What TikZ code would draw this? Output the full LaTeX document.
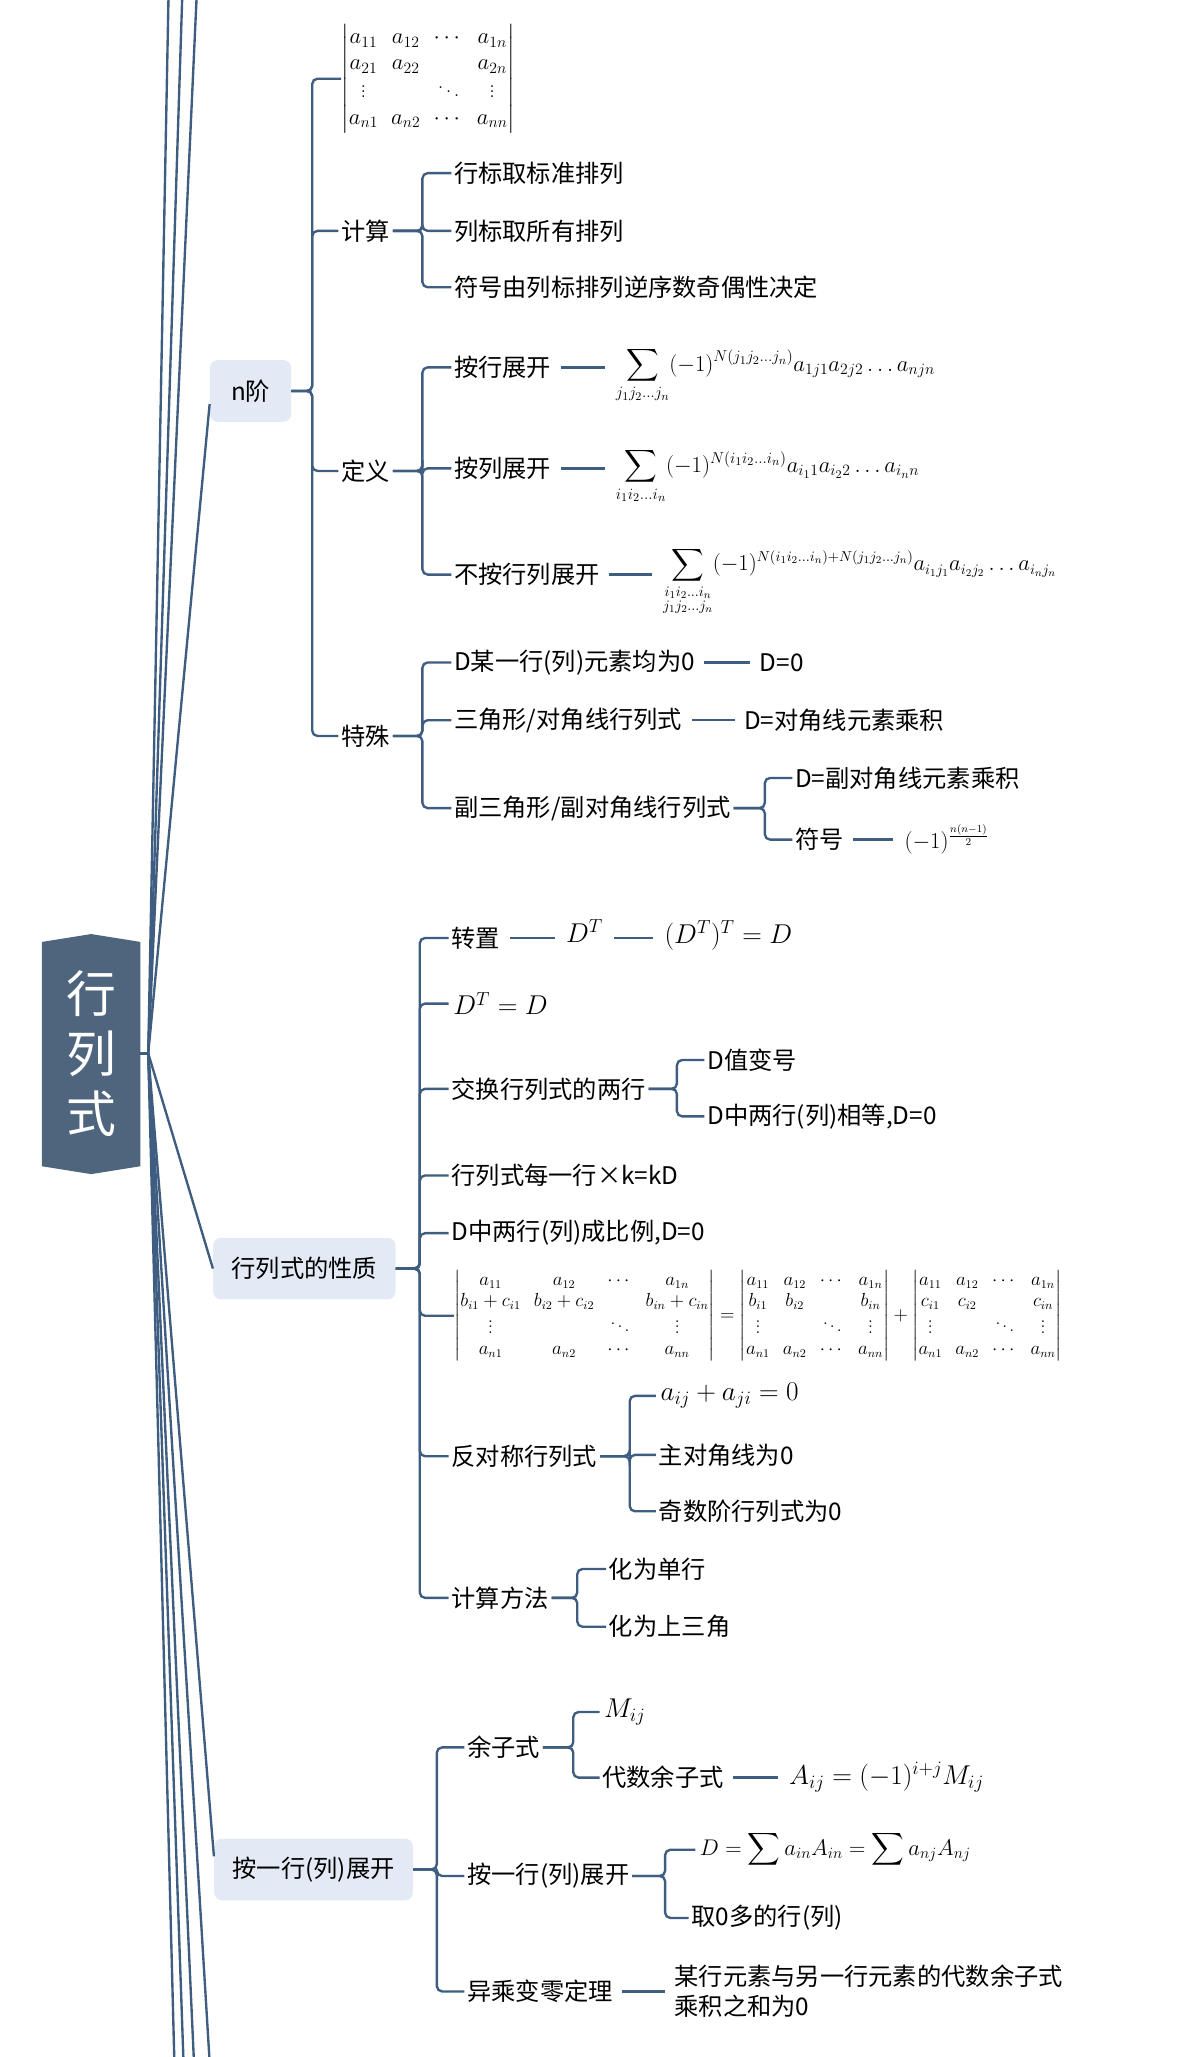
\documentclass[tikz,border=0pt]{standalone}
\usepackage{amsmath}
\usepackage{fontspec}
\newfontfamily\cjk{Noto Sans CJK SC}
\definecolor{linec}{HTML}{3E5D80}
\definecolor{rootc}{HTML}{4E657D}
\definecolor{boxc}{HTML}{E3EAF5}
\tikzset{
  link/.style={draw=linec, line width=1.8pt, rounded corners=4pt},
  dashlink/.style={draw=linec, line width=1.8pt, shorten <=5pt, shorten >=5pt},
  txt/.style={anchor=west, inner sep=2pt, font=\cjk\fontsize{18.5}{23}\selectfont},
  sub/.style={rounded corners=6pt, fill=boxc, minimum height=47pt, inner xsep=14pt,
    font=\cjk\fontsize{18.5}{23}\selectfont}
}
\begin{document}
\begin{tikzpicture}[x=1pt,y=-1pt]
  \clip (0,0) rectangle (905,1568);
  % root
  \fill[rootc] (32,718) -- (69.5,712) -- (107,718) -- (107,889) -- (69.5,895) -- (32,889) -- cycle;
  \node[text=white, font=\cjk\fontsize{38}{46}\selectfont, align=center] (root) at (69.5,803) {行\\列\\式};
  \coordinate (rt) at (113,803);
  \draw[link] (107,803) -- (rt);
  % branches leaving the picture
  \coordinate (up1) at (128.5,-5);
  \coordinate (up2) at (139,-5);
  \coordinate (up3) at (150,-5);
  \coordinate (dn1) at (133,1575);
  \coordinate (dn2) at (140,1575);
  \coordinate (dn3) at (148,1575);
  \coordinate (dn4) at (160,1575);
  \foreach \e in {up1,up2,up3,dn1,dn2,dn3,dn4}
    \draw[linec, line width=1.8pt] (rt) -- (\e);

  % ---------- n阶 ----------
  \node[sub, minimum width=62pt] (njie) at (191,298) {n阶};
  \draw[linec, line width=1.8pt] (rt) -- ([yshift=-10pt]njie.west);
  \node[anchor=west, inner sep=0pt] (det) at (260,60)
    {\fontsize{17}{20}\selectfont$\begin{vmatrix} a_{11} & a_{12} & \cdots & a_{1n}\\ a_{21} & a_{22} & & a_{2n}\\ \vdots & & \ddots & \vdots\\ a_{n1} & a_{n2} & \cdots & a_{nn}\end{vmatrix}$};
  \node[txt] (jisuan) at (258,176) {计算};
  \node[txt] (dingyi) at (258,359) {定义};
  \node[txt] (teshu) at (258,561) {特殊};
  \foreach \c in {det,jisuan,dingyi,teshu}
    \draw[link] (njie.east) -- (238,298) |- (\c.west);

  \node[txt] (j1) at (344,132) {行标取标准排列};
  \node[txt] (j2) at (344,176) {列标取所有排列};
  \node[txt] (j3) at (344,219) {符号由列标排列逆序数奇偶性决定};
  \foreach \c in {j1,j2,j3}
    \draw[link] (jisuan.east) -- (322,176) |- (\c.west);

  \node[txt] (d1) at (344,280) {按行展开};
  \node[txt] (d2) at (344,357) {按列展开};
  \node[txt] (d3) at (344,438) {不按行列展开};
  \foreach \c in {d1,d2,d3}
    \draw[link] (dingyi.east) -- (322,359) |- (\c.west);
  \node[anchor=west, font=\fontsize{18}{21}\selectfont] (f1) at (466,286)
    {$\displaystyle\sum_{j_1j_2\dots j_n}(-1)^{N(j_1j_2\dots j_n)}a_{1j1}a_{2j2}\dots a_{njn}$};
  \node[anchor=west, font=\fontsize{18}{21}\selectfont] (f2) at (466,363)
    {$\displaystyle\sum_{i_1i_2\dots i_n}(-1)^{N(i_1i_2\dots i_n)}a_{i_11}a_{i_22}\dots a_{i_nn}$};
  \node[anchor=west, font=\fontsize{16}{19}\selectfont] (f3) at (502,443)
    {$\displaystyle\sum_{\substack{i_1i_2\dots i_n\\ j_1j_2\dots j_n}}(-1)^{N(i_1i_2\dots i_n)+N(j_1j_2\dots j_n)}a_{i_1j_1}a_{i_2j_2}\dots a_{i_nj_n}$};
  \draw[dashlink] (d1.east) -- (d1.east -| f1.west);
  \draw[dashlink] (d2.east) -- (d2.east -| f2.west);
  \draw[dashlink] (d3.east) -- (d3.east -| f3.west);

  \node[txt] (t1) at (344,505) {D某一行(列)元素均为0};
  \node[txt] (t2) at (344,549) {三角形/对角线行列式};
  \node[txt] (t3) at (344,616) {副三角形/副对角线行列式};
  \foreach \c in {t1,t2,t3}
    \draw[link] (teshu.east) -- (322,561) |- (\c.west);
  \node[txt] (t1a) at (577,505) {D=0};
  \node[txt] (t2a) at (565,549) {D=对角线元素乘积};
  \draw[dashlink] (t1.east) -- (t1a.west);
  \draw[dashlink] (t2.east) -- (t2a.west);
  \node[txt] (t3a) at (604,593) {D=副对角线元素乘积};
  \node[txt] (t3b) at (604,640) {符号};
  \foreach \c in {t3a,t3b}
    \draw[link] (t3.east) -- (583,616) |- (\c.west);
  \node[anchor=west, font=\fontsize{17}{20}\selectfont] (t3c) at (686,640) {$(-1)^{\frac{n(n-1)}{2}}$};
  \draw[dashlink] (t3b.east) -- (t3b.east -| t3c.west);

  % ---------- 行列式的性质 ----------
  \node[sub] (xz) at (232,967) {行列式的性质};
  \draw[linec, line width=1.8pt] (rt) -- (xz.west);
  \node[txt] (p1) at (342,715) {转置};
  \node[anchor=west, font=\fontsize{21}{24}\selectfont] (p2) at (342,765) {$D^T=D$};
  \node[txt] (p3) at (342,830) {交换行列式的两行};
  \node[txt] (p4) at (342,896) {行列式每一行×k=kD};
  \node[txt] (p5) at (342,940) {D中两行(列)成比例,D=0};
  \node[anchor=west, font=\fontsize{13.5}{16}\selectfont, inner sep=0pt] (p6) at (346,1003)
    {$\begin{vmatrix} a_{11} & a_{12} & \cdots & a_{1n}\\ b_{i1}+c_{i1} & b_{i2}+c_{i2} & & b_{in}+c_{in}\\ \vdots & & \ddots & \vdots\\ a_{n1} & a_{n2} & \cdots & a_{nn}\end{vmatrix}
     =\begin{vmatrix} a_{11} & a_{12} & \cdots & a_{1n}\\ b_{i1} & b_{i2} & & b_{in}\\ \vdots & & \ddots & \vdots\\ a_{n1} & a_{n2} & \cdots & a_{nn}\end{vmatrix}
     +\begin{vmatrix} a_{11} & a_{12} & \cdots & a_{1n}\\ c_{i1} & c_{i2} & & c_{in}\\ \vdots & & \ddots & \vdots\\ a_{n1} & a_{n2} & \cdots & a_{nn}\end{vmatrix}$};
  \node[txt] (p7) at (342,1110) {反对称行列式};
  \node[txt] (p8) at (342,1218) {计算方法};
  \foreach \c in {p1,p2,p3,p4,p5,p6,p7,p8}
    \draw[link] (xz.east) -- (320,967) |- (\c.west);

  \node[anchor=west, font=\fontsize{21}{24}\selectfont] (p1a) at (428,710) {$D^T$};
  \node[anchor=west, font=\fontsize{21}{24}\selectfont] (p1b) at (503,713) {$(D^T)^T=D$};
  \draw[dashlink] (p1.east) -- (p1.east -| p1a.west);
  \draw[dashlink] (p1a.east |- p1.east) -- (p1.east -| p1b.west);

  \node[txt] (p3a) at (537,808) {D值变号};
  \node[txt] (p3b) at (537,851) {D中两行(列)相等,D=0};
  \foreach \c in {p3a,p3b}
    \draw[link] (p3.east) -- (516,830) |- (\c.west);

  \node[anchor=west, font=\fontsize{20}{23}\selectfont] (p7a) at (500,1064) {$a_{ij}+a_{ji}=0$};
  \node[txt] (p7b) at (500,1109) {主对角线为0};
  \node[txt] (p7c) at (500,1152) {奇数阶行列式为0};
  \foreach \c in {p7a,p7b,p7c}
    \draw[link] (p7.east) -- (480,1110) |- (\c.west);

  \node[txt] (p8a) at (462,1196) {化为单行};
  \node[txt] (p8b) at (462,1240) {化为上三角};
  \foreach \c in {p8a,p8b}
    \draw[link] (p8.east) -- (440,1218) |- (\c.west);

  % ---------- 按一行(列)展开 ----------
  \node[sub] (zk) at (239,1425) {按一行(列)展开};
  \draw[linec, line width=1.8pt] (rt) -- ([yshift=10pt]zk.west);
  \node[txt] (z1) at (354,1332) {余子式};
  \node[txt] (z2) at (354,1430) {按一行(列)展开};
  \node[txt] (z3) at (354,1518) {异乘变零定理};
  \foreach \c in {z1,z2,z3}
    \draw[link] (zk.east) -- (333,1425) |- (\c.west);

  \node[anchor=west, font=\fontsize{21}{24}\selectfont] (z1a) at (457,1305) {$M_{ij}$};
  \node[txt] (z1b) at (457,1355) {代数余子式};
  \foreach \c in {z1a,z1b}
    \draw[link] (z1.east) -- (437,1332) |- (\c.west);
  \node[anchor=west, font=\fontsize{20}{23}\selectfont] (z1c) at (598,1355) {$A_{ij}=(-1)^{i+j}M_{ij}$};
  \draw[dashlink] (z1b.east) -- (z1b.east -| z1c.west);

  \node[anchor=west, font=\fontsize{17}{20}\selectfont] (z2a) at (530,1410) {$\displaystyle D=\sum a_{in}A_{in}=\sum a_{nj}A_{nj}$};
  \node[txt] (z2b) at (525,1462) {取0多的行(列)};
  \foreach \c in {z2a,z2b}
    \draw[link] (z2.east) -- (507,1430) |- (\c.west);

  \node[txt, align=left] (z3a) at (512,1518) {某行元素与另一行元素的代数余子式\\乘积之和为0};
  \draw[dashlink] (z3.east) -- (z3a.west);
\end{tikzpicture}
\end{document}
